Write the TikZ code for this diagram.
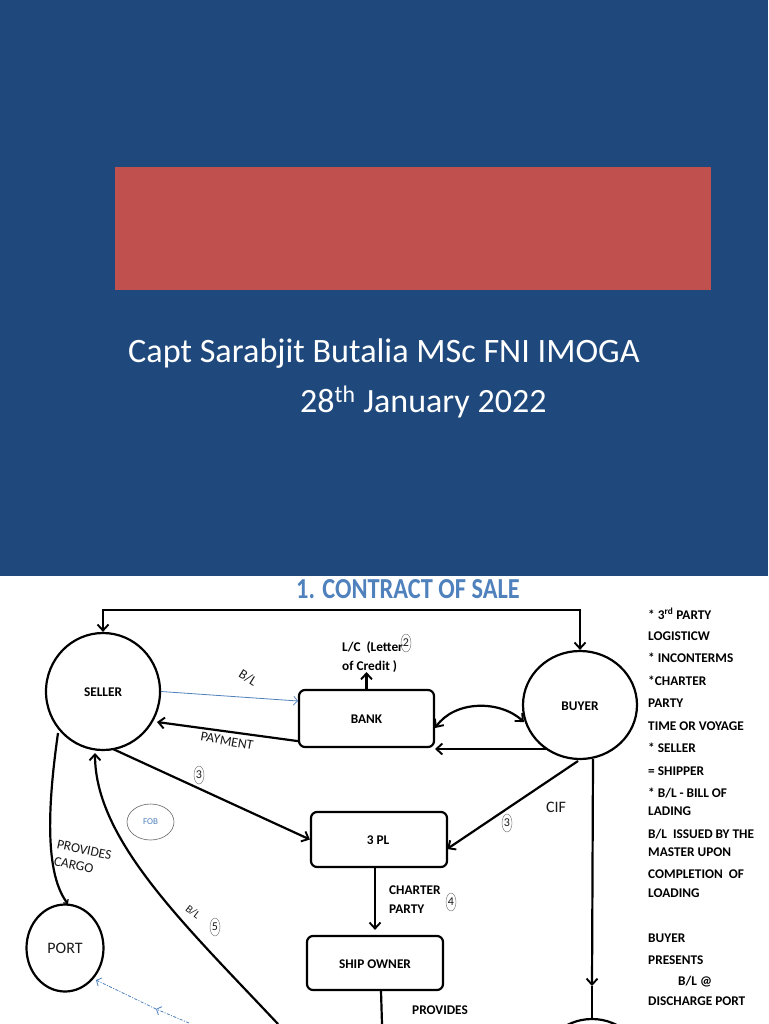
\documentclass[tikz,border=0pt]{standalone}
\usepackage{fontspec}
\setmainfont{Carlito}
\usetikzlibrary{arrows.meta,shapes.geometric}
\definecolor{navy}{HTML}{1F497D}
\definecolor{brick}{HTML}{C0504D}
\definecolor{ttl}{HTML}{4F81BD}
\tikzset{
 x=1pt,y=-1pt,
 barb/.tip={Straight Barb[length=6pt,width=11pt,line width=1.9pt]},
 conn/.style={draw=black,line width=2.2pt,-barb},
 both/.style={draw=black,line width=2.2pt,barb-barb},
 plain/.style={draw=black,line width=2.2pt},
 small/.style={draw=black,line width=2.2pt,-{Straight Barb[length=3pt,width=6pt,line width=1.2pt]}},
 blueconn/.style={draw=ttl,line width=0.8pt,-{Straight Barb[length=4pt,width=9pt,line width=.7pt]}},
 bluedash/.style={draw=ttl,line width=.8pt,dash pattern=on 3pt off 1.5pt on 1pt off 1.5pt,-{Straight Barb[length=4pt,width=9pt,line width=.8pt]}},
 circ/.style={ellipse,draw=black,line width=2.2pt,inner sep=0pt,align=center},
 box/.style={draw=black,line width=2.2pt,rounded corners=6pt,inner sep=0pt,align=center},
 lab/.style={inner sep=0pt,font=\fontsize{13.3}{15}\selectfont\bfseries,text=black},
 thinlab/.style={inner sep=0pt,font=\fontsize{13.6}{15}\selectfont,text=black!90},
 side/.style={inner sep=0pt,anchor=west,font=\fontsize{13.3}{15}\selectfont\bfseries,text=black},
 num/.style={ellipse,draw=black!60,line width=.4pt,inner sep=0pt,minimum width=10pt,minimum height=18pt,font=\fontsize{12}{12}\selectfont,text=black!90},
}
\begin{document}
\begin{tikzpicture}
\useasboundingbox (0,0) rectangle (768,1024);
\fill[navy] (0,0) rectangle (768,576);
\fill[white] (0,576) rectangle (768,1024);
\fill[brick] (115,167) rectangle (711,290);
\node[inner sep=0pt,anchor=base west,text=white,font=\fontsize{34.2}{36}\selectfont] (author) at (128,362) {Capt Sarabjit Butalia MSc FNI IMOGA};
\node[inner sep=0pt,anchor=base west,text=white,font=\fontsize{34}{36}\selectfont] (date) at (300,412) {28\textsuperscript{th} January 2022};
\node[inner sep=0pt,text=ttl,font=\fontsize{29}{30}\selectfont\bfseries] (title) at (408,589) {\addfontfeature{FakeStretch=0.84}1. CONTRACT OF SALE};
% nodes
\node[circ,minimum width=114pt,minimum height=117pt] (seller) at (103,691.5) {};
\node[lab] (sellert) at (103,692.5) {SELLER};
\node[circ,minimum width=114pt,minimum height=108pt] (buyer) at (580,705) {};
\node[lab] (buyert) at (580,706) {BUYER};
\node[circ,minimum width=77pt,minimum height=87pt] (port) at (65,948) {};
\node[inner sep=0pt,font=\fontsize{16}{18}\selectfont,text=black!90] (portt) at (65,948.5) {PORT};
\node[box,minimum width=135pt,minimum height=57pt] (bank) at (366.5,718.5) {};
\node[lab] (bankt) at (366.5,719) {BANK};
\node[box,minimum width=136pt,minimum height=55pt] (pl) at (379,839.5) {};
\node[lab] (plt) at (378,840) {3 PL};
\node[box,minimum width=136pt,minimum height=54pt] (owner) at (375,963) {};
\node[lab] (ownert) at (375,964) {SHIP OWNER};
\node[circ,minimum width=108pt,minimum height=108pt] (dis) at (592,1073) {};
\node[ellipse,draw=black!60,line width=.6pt,minimum width=47pt,minimum height=36pt,inner sep=0pt,text=ttl,font=\fontsize{9}{10}\selectfont] (fob) at (150.5,822) {FOB};
% connectors
\coordinate (toplo) at (103,610);
\coordinate (tophi) at (580,610);
\draw[both] (seller.north) -- (toplo) -- (tophi) -- (buyer.north);
\coordinate (blpt) at (298,701);
\draw[blueconn] (seller.east) -- (blpt);
\path (bank.south west) ++(0,-7) coordinate (paystart);
\coordinate (payend) at (157,722);
\draw[conn] (paystart) -- (payend);
\coordinate (lctip) at (366.5,672);
\draw[conn] (bank.north) -- (lctip);
\path (buyer.west) ++(2,17) coordinate (arcb);
\path (bank.east) ++(0,9.5) coordinate (arca);
\draw[both] (arca) .. controls (455,700) and (500,700) .. (arcb);
\coordinate (lowb) at (547,749);
\coordinate (lowa) at (435,749);
\draw[conn] (lowb) -- (lowa);
\coordinate (selb) at (113,749);
\draw[conn] (selb) -- (pl.west);
\coordinate (buyb) at (578,761);
\path (pl.east) ++(-1,9.5) coordinate (plin);
\draw[conn] (buyb) -- (plin);
\path (owner.north) ++(0,-5) coordinate (ownin);
\draw[conn] (ownin |- pl.south) -- (ownin);
\coordinate (buyc) at (593,759);
\coordinate (disin) at (592,986);
\draw[conn] (buyc) -- (disin);
\draw[plain] (disin) -- (dis.north);
\coordinate (sellc) at (58,733);
\coordinate (pt) at (68,904);
\draw[small] (sellc) .. controls (50,790) and (42,870) .. (pt);
\coordinate (owb) at (278,1024);
\coordinate (selin) at (95,753);
\draw[conn] (owb) .. controls (185,925) and (95,840) .. (selin);
\path (owner.south) ++(6,0) coordinate (ows);
\coordinate (owe) at (382,1024);
\draw[plain] (ows) -- (owe);
\coordinate (dmid) at (156,1009);
\coordinate (dtip) at (96,980);
\coordinate (dend) at (189,1023);
\draw[bluedash] (dend) -- (dmid);
\draw[bluedash] (dmid) -- (dtip);
% labels
\node[thinlab,rotate=-32] (t1) at (248,678) {B/L};
\node[thinlab,rotate=-10] (t2) at (227,741) {PAYMENT};
\node[thinlab,rotate=-12,anchor=west] (t3) at (57,844) {PROVIDES};
\node[thinlab,rotate=-12,anchor=west] (t4) at (54,861) {CARGO};
\node[thinlab,rotate=-38,font=\fontsize{11}{12}\selectfont] (t5) at (193,912) {B/L};
\node[lab,anchor=west] (t6) at (342,648) {L/C\ \ (Letter};
\node[lab,anchor=west] (t7) at (342,667) {of Credit )};
\node[lab,anchor=west] (t8) at (389,890) {CHARTER};
\node[lab,anchor=west] (t9) at (389,909) {PARTY};
\node[lab,anchor=west] (t10) at (412,1010) {PROVIDES};
\node[inner sep=0pt,font=\fontsize{16}{16}\selectfont,text=black!90] (t11) at (556,807) {CIF};
\node[num] (n1) at (199,775) {3};
\node[num] (n2) at (406,643) {2};
\node[num] (n3) at (507,823) {3};
\node[num] (n4) at (451,902) {4};
\node[num] (n5) at (215,927) {5};
% side notes
\node[side] (s1) at (648,614) {* 3\textsuperscript{rd} PARTY};
\node[side] (s2) at (648,636) {LOGISTICW};
\node[side] (s3) at (648,658) {* INCONTERMS};
\node[side] (s4) at (648,681) {*CHARTER};
\node[side] (s5) at (648,703) {PARTY};
\node[side] (s6) at (648,726) {TIME OR VOYAGE};
\node[side] (s7) at (648,748) {* SELLER};
\node[side] (s8) at (648,771) {= SHIPPER};
\node[side] (s9) at (648,793) {* B/L - BILL OF};
\node[side] (s10) at (648,811) {LADING};
\node[side] (s11) at (648,834) {B/L\ \ ISSUED BY THE};
\node[side] (s12) at (648,852) {MASTER UPON};
\node[side] (s13) at (648,874) {COMPLETION\ \ OF};
\node[side] (s14) at (648,893) {LOADING};
\node[side] (s15) at (648,938) {BUYER};
\node[side] (s16) at (648,960) {PRESENTS};
\node[side] (s17) at (678,982) {B/L @};
\node[side] (s18) at (648,1001) {DISCHARGE PORT};
\end{tikzpicture}
\end{document}
